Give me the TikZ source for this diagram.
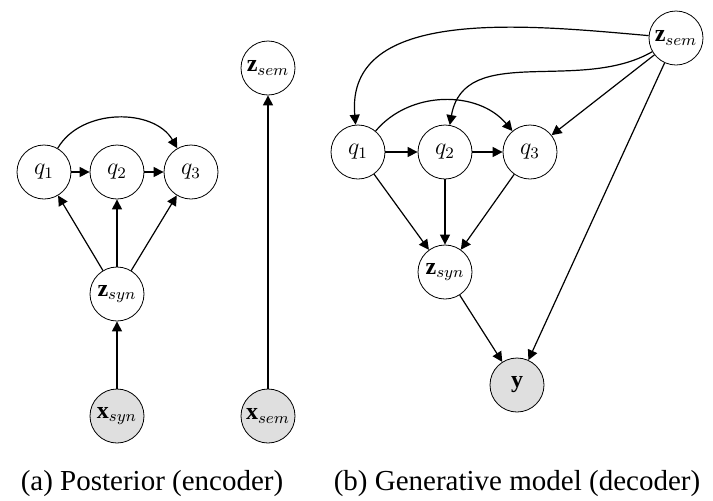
\documentclass[tikz,border=0pt]{standalone}
\usepackage{fontspec}
\setmainfont{Liberation Serif}
\usetikzlibrary{arrows.meta}
\begin{document}
\begin{tikzpicture}[x=0.5pt,y=-0.5pt,
  v/.style={circle,draw,minimum size=27pt,inner sep=0pt,font=\fontsize{12}{14}\selectfont},
  obs/.style={v,fill=gray!25},
  e/.style={-{Triangle[length=5pt,width=5pt]},semithick},
  captxt/.style={font=\fontsize{14.5}{17}\selectfont,inner sep=0pt}]
\useasboundingbox (0,0) rectangle (713,500);
% (a)
\node[v] (aq1) at (44,172) {$q_1$};
\node[v] (aq2) at (117,172) {$q_2$};
\node[v] (aq3) at (191,172) {$q_3$};
\node[v] (azs) at (117,294) {$\mathbf{z}_{syn}$};
\node[obs] (axs) at (117,416) {$\mathbf{x}_{syn}$};
\node[v] (azm) at (268,68) {$\mathbf{z}_{sem}$};
\node[obs] (axm) at (268,416) {$\mathbf{x}_{sem}$};
\draw[e] (aq1) -- (aq2);
\draw[e] (aq2) -- (aq3);
\draw[e] (aq1) to[out=60,in=120] (aq3);
\draw[e] (azs) -- (aq1);
\draw[e] (azs) -- (aq2);
\draw[e] (azs) -- (aq3);
\draw[e] (axs) -- (azs);
\draw[e] (axm) -- (azm);
% (b)
\node[v] (bzm) at (676,38) {$\mathbf{z}_{sem}$};
\node[v] (bq1) at (358,152) {$q_1$};
\node[v] (bq2) at (445,152) {$q_2$};
\node[v] (bq3) at (530,152) {$q_3$};
\node[v] (bzs) at (445,272) {$\mathbf{z}_{syn}$};
\node[obs] (by) at (517,385) {$\mathbf{y}$};
\draw[e] (bq1) -- (bq2);
\draw[e] (bq2) -- (bq3);
\draw[e] (bq1) to[out=50,in=130] (bq3);
\draw[e] (bzm) to[out=175,in=95] (bq1);
\draw[e] (bzm) to[out=210,in=80] (bq2);
\draw[e] (bzm) -- (bq3);
\draw[e] (bzm) -- (by);
\draw[e] (bq1) -- (bzs);
\draw[e] (bq2) -- (bzs);
\draw[e] (bq3) -- (bzs);
\draw[e] (bzs) -- (by);
\node[captxt] (ca) at (152,484) {(a) Posterior (encoder)};
\node[captxt] (cb) at (517,484) {(b) Generative model (decoder)};
\end{tikzpicture}
\end{document}
